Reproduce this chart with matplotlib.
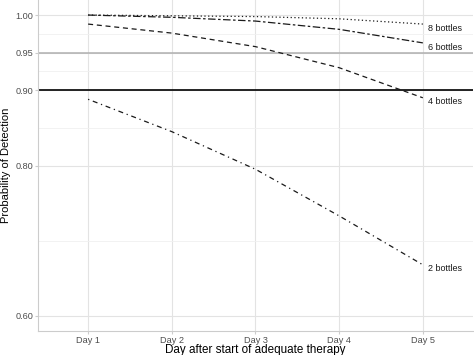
import matplotlib
matplotlib.use("Agg")
import matplotlib.pyplot as plt
from matplotlib.ticker import FixedLocator

plt.rcParams['font.family'] = ['Liberation Sans', 'DejaVu Sans']

days = ["Day 1", "Day 2", "Day 3", "Day 4", "Day 5"]
x = [1, 2, 3, 4, 5]
p8 = [1.000, 0.999, 0.998, 0.995, 0.988]
p6 = [1.000, 0.997, 0.992, 0.981, 0.963]
p4 = [0.988, 0.976, 0.958, 0.930, 0.890]
p2 = [0.888, 0.845, 0.795, 0.733, 0.668]
series = [("8 bottles", p8, (0, (1, 2))),
          ("6 bottles", p6, (0, (6, 2, 2, 2))),
          ("4 bottles", p4, (0, (4, 3))),
          ("2 bottles", p2, (0, (1, 3, 4, 3)))]
y_major = [0.60, 0.80, 0.90, 0.95, 1.00]
y_minor = [0.70, 0.85, 0.925, 0.975]

fig = plt.figure(figsize=(4.74, 3.55), dpi=100)
ax = fig.add_axes([0.080, 0.0676, 0.918, 0.9324])

ax.set_xlim(0.4, 5.6)
ax.set_ylim(0.58, 1.02)

ax.yaxis.set_major_locator(FixedLocator(y_major))
ax.yaxis.set_minor_locator(FixedLocator(y_minor))
ax.set_yticklabels([f"{v:.2f}" for v in y_major])
ax.set_xticks(x)
ax.set_xticklabels(days)

ax.grid(which='major', color='#e3e3e3', linewidth=0.8)
ax.grid(which='minor', axis='y', color='#f0f0f0', linewidth=0.6)
ax.set_axisbelow(True)

for s in ['top', 'right']:
    ax.spines[s].set_visible(False)
for s in ['left', 'bottom']:
    ax.spines[s].set_color('#cccccc')
    ax.spines[s].set_linewidth(0.8)

ax.tick_params(which='major', length=2.2, color='#cccccc', labelsize=6.6,
               labelcolor='#4d4d4d', pad=1.2)
ax.tick_params(which='minor', length=0)

ax.axhline(0.95, color='#b0b0b0', linewidth=1.1, zorder=1.5)
ax.axhline(0.90, color='black', linewidth=1.2, zorder=1.5)

for name, vals, ls in series:
    ax.plot(x, vals, color='#1a1a1a', linewidth=0.9, linestyle=ls)
    ax.annotate(name, xy=(x[-1], vals[-1]), xytext=(4, -3),
                textcoords='offset points', ha='left', va='center',
                fontsize=6.5, color='#1a1a1a')

ax.set_xlabel("Day after start of adequate therapy", fontsize=8.4)
ax.xaxis.set_label_coords(0.5, -0.058)
ax.xaxis.label.set_va('center')
ax.set_ylabel("Probability of Detection", fontsize=8.0)
ax.yaxis.set_label_coords(-0.0725, 0.5)
ax.yaxis.label.set_va('center')

fig.savefig("out.png", dpi=100)
